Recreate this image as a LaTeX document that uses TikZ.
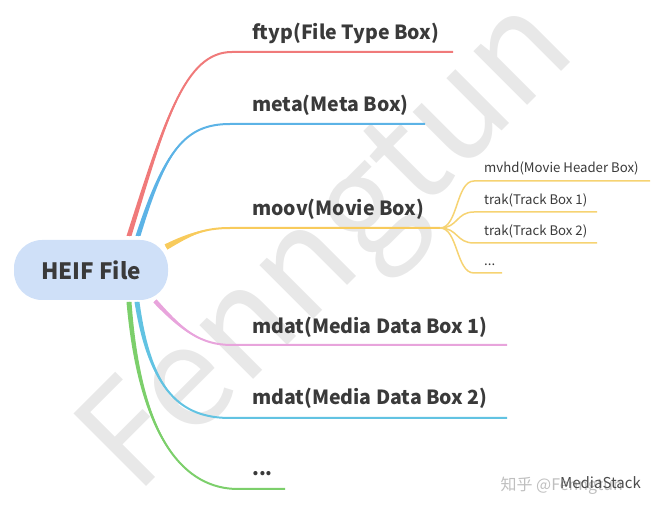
\documentclass[tikz,border=0pt]{standalone}
\usepackage{fontspec}
\setmainfont{Noto Sans CJK SC}
\usepackage{tikz}
\usetikzlibrary{calc,positioning}

\definecolor{txtgray}{HTML}{3A3A3A}
\definecolor{rootblue}{HTML}{CFE0F8}
\definecolor{ftypred}{HTML}{F07A7A}
\definecolor{metablue}{HTML}{5CB3E6}
\definecolor{moovyellow}{HTML}{F8CB5C}
\definecolor{subyellow}{HTML}{F6D372}
\definecolor{mdatpink}{HTML}{E8A4DC}
\definecolor{mdatcyan}{HTML}{62C3E2}
\definecolor{restgreen}{HTML}{7CCF6B}

\begin{document}
\begin{tikzpicture}[x=1pt,y=-1pt,
  root/.style={fill=rootblue,rounded corners=28pt,minimum width=154pt,minimum height=60pt,
    text=txtgray,font=\bfseries\fontsize{22.5}{24}\selectfont},
  boxlabel/.style={anchor=base west,inner sep=0pt,text=txtgray,font=\bfseries\fontsize{19.5}{22}\selectfont},
  sublabel/.style={anchor=base west,inner sep=0pt,text=txtgray,font=\fontsize{13.2}{15}\selectfont},
  branch/.style={line width=2pt},
  twig/.style={subyellow,line width=1.5pt}]
  \useasboundingbox (0,0) rectangle (667,510);

  % watermarks
  \node[rotate=45,anchor=base west,inner sep=0pt,text=black!9,font=\fontsize{140}{140}\selectfont] (wm) at (136,497) {Fenngtun};
  \node[anchor=base west,text=black!25,font=\fontsize{16}{16}\selectfont] (zhihu) at (497,490) {知乎 @Fenngtun};
  \node[anchor=base west,inner sep=0pt,text=black!70,font=\fontsize{15}{15}\selectfont] (mstack) at (560,489) {MediaStack};

  % branch ends
  \coordinate (ftyp-s) at (129,236);  \coordinate (ftyp-e) at (232,52);  \coordinate (ftyp-r) at (453,52);
  \coordinate (meta-s) at (138,236);  \coordinate (meta-e) at (230,124); \coordinate (meta-r) at (425,124);
  \coordinate (moov-s) at (166,247);  \coordinate (moov-e) at (230,228); \coordinate (moov-r) at (440,228);
  \coordinate (mdat1-s) at (155,301); \coordinate (mdat1-e) at (232,345); \coordinate (mdat1-r) at (507,345);
  \coordinate (mdat2-s) at (137,302); \coordinate (mdat2-e) at (230,418); \coordinate (mdat2-r) at (507,418);
  \coordinate (rest-s) at (129,302);  \coordinate (rest-e) at (238,489); \coordinate (rest-r) at (285,489);

  % main branches, thicker towards the root
  \draw[branch,ftypred] (ftyp-s) .. controls (165,120) and (185,52) .. (ftyp-e) -- (ftyp-r);
  \fill[ftypred] ($(ftyp-s)+(-2.5,0)$) .. controls (163.5,120) and (185,52) .. (ftyp-e)
    .. controls (185,52) and (166.5,120) .. ($(ftyp-s)+(2.5,0)$) -- cycle;
  \draw[branch,metablue] (meta-s) .. controls (165,150) and (185,124) .. (meta-e) -- (meta-r);
  \fill[metablue] ($(meta-s)+(-2.5,0)$) .. controls (163.5,150) and (185,124) .. (meta-e)
    .. controls (185,124) and (166.5,150) .. ($(meta-s)+(2.5,0)$) -- cycle;
  \draw[branch,moovyellow] (moov-s) .. controls (190,234) and (205,228) .. (moov-e) -- (moov-r);
  \fill[moovyellow] ($(moov-s)+(-1.4,-2.6)$) .. controls (189,232.5) and (205,228) .. (moov-e)
    .. controls (205,228) and (191,235.5) .. ($(moov-s)+(1.4,2.6)$) -- cycle;
  \draw[branch,mdatpink] (mdat1-s) .. controls (182,330) and (200,345) .. (mdat1-e) -- (mdat1-r);
  \fill[mdatpink] ($(mdat1-s)+(-1.6,1.6)$) .. controls (181,331) and (200,345) .. (mdat1-e)
    .. controls (200,345) and (183,329) .. ($(mdat1-s)+(1.6,-1.6)$) -- cycle;
  \draw[branch,mdatcyan] (mdat2-s) .. controls (150,390) and (180,418) .. (mdat2-e) -- (mdat2-r);
  \fill[mdatcyan] ($(mdat2-s)+(-2.5,0)$) .. controls (148.5,390) and (180,418) .. (mdat2-e)
    .. controls (180,418) and (151.5,390) .. ($(mdat2-s)+(2.5,0)$) -- cycle;
  \draw[branch,restgreen] (rest-s) .. controls (140,440) and (185,489) .. (rest-e) -- (rest-r);
  \fill[restgreen] ($(rest-s)+(-2.5,0)$) .. controls (138.5,440) and (185,489) .. (rest-e)
    .. controls (185,489) and (141.5,440) .. ($(rest-s)+(2.5,0)$) -- cycle;

  % moov children
  \coordinate (mvhd-e) at (474,181);  \coordinate (mvhd-r) at (650,181);
  \coordinate (trak1-e) at (474,212); \coordinate (trak1-r) at (597,212);
  \coordinate (trak2-e) at (474,243); \coordinate (trak2-r) at (597,243);
  \coordinate (more-e) at (474,273);  \coordinate (more-r) at (502,273);
  \foreach \n in {mvhd,trak1,trak2,more}
    \draw[twig] (moov-r) .. controls ($(moov-r)+(18,0)$) and ($(\n-e)+(-18,0)$) .. (\n-e) -- (\n-r);

  % root and labels
  \node[root] (heif) at (91,270) {HEIF File};
  \node[boxlabel] (ftyp) at (252,40) {ftyp(File Type Box)};
  \node[boxlabel] (meta) at (252,112) {meta(Meta Box)};
  \node[boxlabel] (moov) at (252,216) {moov(Movie Box)};
  \node[boxlabel] (mdat1) at (252,334) {mdat(Media Data Box 1)};
  \node[boxlabel] (mdat2) at (252,405) {mdat(Media Data Box 2)};
  \node[boxlabel] (rest) at (252,476) {...};
  \node[sublabel] (mvhd) at (484,173) {mvhd(Movie Header Box)};
  \node[sublabel] (trak1) at (484,205) {trak(Track Box 1)};
  \node[sublabel] (trak2) at (484,236) {trak(Track Box 2)};
  \node[sublabel] (more) at (484,266) {...};
\end{tikzpicture}
\end{document}
